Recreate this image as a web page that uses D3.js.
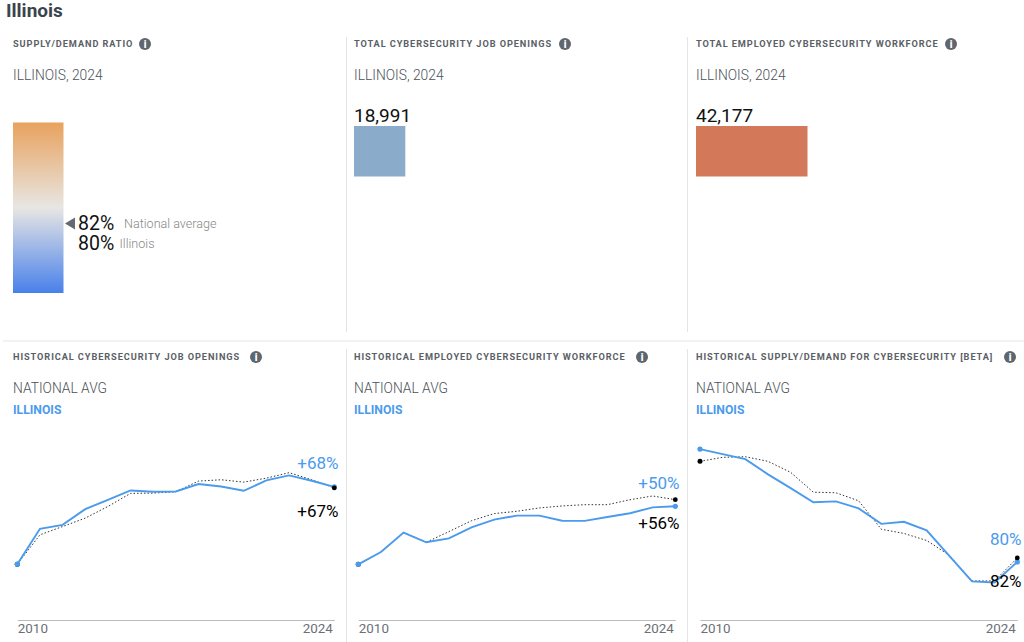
<!DOCTYPE html>
<html>
<head>
<meta charset="utf-8">
<script src="https://cdn.jsdelivr.net/npm/d3@7"></script>
<style>
html, body { margin: 0; padding: 0; background: #fff; }
text { font-family: Roboto, sans-serif; }
.head { font-size: 9.2px; font-weight: 700; letter-spacing: 0.92px; fill: #5a6066; }
.sub { font-size: 13.8px; font-weight: 300; fill: #4a5157; }
.axis text { font-size: 13.4px; fill: #6c7075; }
</style>
</head>
<body>
<svg id="chart" width="1024" height="642"></svg>
<script>
const years = d3.range(2010, 2025);

// index, 2010 = 100
const openingsIllinois = [100, 131.1, 134.6, 148.4, 156.6, 164.8, 163.6, 163.9, 170.4, 168.3, 164.5, 173.6, 178, 173.3, 168];
const openingsNational = [100, 125.8, 133.1, 140.5, 150.7, 162.2, 162.5, 163.6, 173, 174.2, 172.1, 175.6, 180.4, 174.2, 167];
const workforceIllinois = [100, 110.6, 127.3, 119, 122.4, 131.9, 138.5, 142, 142, 137.6, 137.4, 140.8, 144, 149.1, 150];
const workforceNational = [100, 110.6, 127.3, 119, 128.2, 137.6, 143.7, 145.7, 148.6, 150.3, 151.4, 151.4, 155.7, 158.9, 155.7];
// percent
const ratioIllinois = [136.3, 133.8, 131.3, 123.7, 116.8, 109.8, 110.2, 106.7, 99, 100, 95.8, 83, 70.3, 69.7, 80];
const ratioNational = [130.2, 132.2, 132.5, 130.2, 124.7, 114.8, 114.5, 110.5, 96.3, 94.2, 90.7, 83.3, 70.5, 70.5, 82];

const totalOpenings = 18991;
const totalWorkforce = 42177;
const ratioStops = ['#e8a25e', '#e8e6e3', '#4880ea'];

const blue = '#4a9bed';
const svg = d3.select('#chart');

function info(x, y) {
  svg.append('circle').attr('cx', x).attr('cy', y).attr('r', 6).attr('fill', '#5f666d');
  svg.append('text').attr('x', x).attr('y', y + 3.5).attr('text-anchor', 'middle')
    .attr('font-size', 10).attr('font-weight', 900).attr('fill', '#fff').text('i');
}

function header(x, y, label, iconX) {
  svg.append('text').attr('class', 'head').attr('x', x).attr('y', y).text(label);
  info(iconX, y - 3);
}

function sub(x, y, label) {
  svg.append('text').attr('class', 'sub').attr('x', x).attr('y', y).text(label);
}

svg.append('text').attr('x', 6).attr('y', 17).attr('font-size', 19).attr('font-weight', 700)
  .attr('fill', '#3a444c').text('Illinois');

// dividers
svg.append('line').attr('x1', 3).attr('x2', 1024).attr('y1', 341).attr('y2', 341)
  .attr('stroke', '#eeeeee').attr('stroke-width', 1.5);
[346.5, 687.5].forEach(x => {
  svg.append('line').attr('x1', x).attr('x2', x).attr('y1', 37).attr('y2', 332).attr('stroke', '#e4e4e4');
  svg.append('line').attr('x1', x).attr('x2', x).attr('y1', 349).attr('y2', 642).attr('stroke', '#e4e4e4');
});

// top row
header(13, 47, 'SUPPLY/DEMAND RATIO', 145);
header(354, 47, 'TOTAL CYBERSECURITY JOB OPENINGS', 565);
header(696, 47, 'TOTAL EMPLOYED CYBERSECURITY WORKFORCE', 951);
sub(13, 80, 'ILLINOIS, 2024');
sub(354, 80, 'ILLINOIS, 2024');
sub(696, 80, 'ILLINOIS, 2024');

const grad = svg.append('defs').append('linearGradient').attr('id', 'ratioGrad')
  .attr('x1', 0).attr('x2', 0).attr('y1', 0).attr('y2', 1);
grad.selectAll('stop').data(ratioStops).enter().append('stop')
  .attr('offset', (d, i) => [0, 0.5, 1][i])
  .attr('stop-color', d => d);
svg.append('rect').attr('x', 13).attr('y', 122.5).attr('width', 50.5).attr('height', 170.5).attr('fill', 'url(#ratioGrad)');
svg.append('path').attr('d', 'M65,223.5L75,217.5L75,229.5Z').attr('fill', '#666a6e');

svg.append('text').attr('x', 78).attr('y', 230).attr('font-size', 19.5).attr('fill', '#111').text('82%');
svg.append('text').attr('x', 124).attr('y', 228).attr('font-size', 12.6).attr('font-weight', 300).attr('fill', '#888').text('National average');
svg.append('text').attr('x', 78).attr('y', 250).attr('font-size', 19.5).attr('fill', '#111').text('80%');
svg.append('text').attr('x', 119.5).attr('y', 248).attr('font-size', 12.6).attr('font-weight', 300).attr('fill', '#888').text('Illinois');

const barX = d3.scaleLinear().domain([0, totalWorkforce]).range([2, 111.5]);
const bars = [
  { x: 354, value: totalOpenings, color: '#8aabc9' },
  { x: 696, value: totalWorkforce, color: '#d37959' }
];
svg.selectAll('.bar').data(bars).enter().append('rect').attr('class', 'bar')
  .attr('x', d => d.x).attr('y', 126).attr('height', 50.5)
  .attr('width', d => barX(d.value)).attr('fill', d => d.color);
svg.selectAll('.barLabel').data(bars).enter().append('text').attr('class', 'barLabel')
  .attr('x', d => d.x).attr('y', 122).attr('font-size', 19).attr('fill', '#111')
  .text(d => d3.format(',')(d.value));

// bottom row
const panels = [
  { title: 'HISTORICAL CYBERSECURITY JOB OPENINGS', textX: 13, iconX: 256, x0: 17.3, x1: 334.3,
    domain: [51, 181], top: 472, illinois: openingsIllinois, national: openingsNational,
    blueLabel: '+68%', blackLabel: '+67%', labelX: 338.5, blueY: 469, blackY: 516.5 },
  { title: 'HISTORICAL EMPLOYED CYBERSECURITY WORKFORCE', textX: 354, iconX: 642, x0: 358.3, x1: 675.3,
    domain: [52, 160], top: 494.7, illinois: workforceIllinois, national: workforceNational,
    blueLabel: '+50%', blackLabel: '+56%', labelX: 679.5, blueY: 489, blackY: 528.5 },
  { title: 'HISTORICAL SUPPLY/DEMAND FOR CYBERSECURITY [BETA]', textX: 696, iconX: 1010, x0: 700, x1: 1017.3,
    domain: [51, 140], top: 441.7, illinois: ratioIllinois, national: ratioNational,
    blueLabel: '80%', blackLabel: '82%', labelX: 1021.5, blueY: 544.5, blackY: 586.5 }
];

panels.forEach(p => {
  header(p.textX, 360, p.title, p.iconX);
  sub(p.textX, 393, 'NATIONAL AVG');
  svg.append('text').attr('x', p.textX).attr('y', 414).attr('font-size', 12.2).attr('font-weight', 700)
    .attr('fill', blue).text('ILLINOIS');

  const x = d3.scaleLinear().domain([2010, 2024]).range([p.x0, p.x1]);
  const y = d3.scaleLinear().domain(p.domain).range([620, p.top]);
  const line = d3.line().x((d, i) => x(years[i])).y(d => y(d));

  const axis = svg.append('g').attr('class', 'axis').attr('transform', 'translate(0,620)')
    .call(d3.axisBottom(x).tickValues([2010, 2024]).tickSize(0).tickFormat(d3.format('d')).tickPadding(3));
  axis.select('.domain').attr('stroke', '#bbbbbb').attr('stroke-width', 1.2);
  axis.selectAll('text').attr('text-anchor', d => d === 2010 ? 'start' : 'end')
    .attr('dx', d => d === 2010 ? 0 : -2);

  svg.append('path').attr('d', line(p.national)).attr('fill', 'none')
    .attr('stroke', '#333').attr('stroke-width', 1).attr('stroke-dasharray', '1.5,2');
  svg.append('circle').attr('cx', x(2010)).attr('cy', y(p.national[0])).attr('r', 2.5).attr('fill', '#000');

  svg.append('path').attr('d', line(p.illinois)).attr('fill', 'none')
    .attr('stroke', blue).attr('stroke-width', 1.9);
  [0, 14].forEach(i => {
    svg.append('circle').attr('cx', x(years[i])).attr('cy', y(p.illinois[i])).attr('r', 2.6).attr('fill', blue);
  });
  svg.append('circle').attr('cx', x(2024)).attr('cy', y(p.national[14])).attr('r', 2.4).attr('fill', '#000');

  svg.append('text').attr('x', p.labelX).attr('y', p.blueY).attr('text-anchor', 'end')
    .attr('font-size', 17).attr('fill', blue).text(p.blueLabel);
  svg.append('text').attr('x', p.labelX).attr('y', p.blackY).attr('text-anchor', 'end')
    .attr('font-size', 17).attr('fill', '#000').text(p.blackLabel);
});
</script>
</body>
</html>
